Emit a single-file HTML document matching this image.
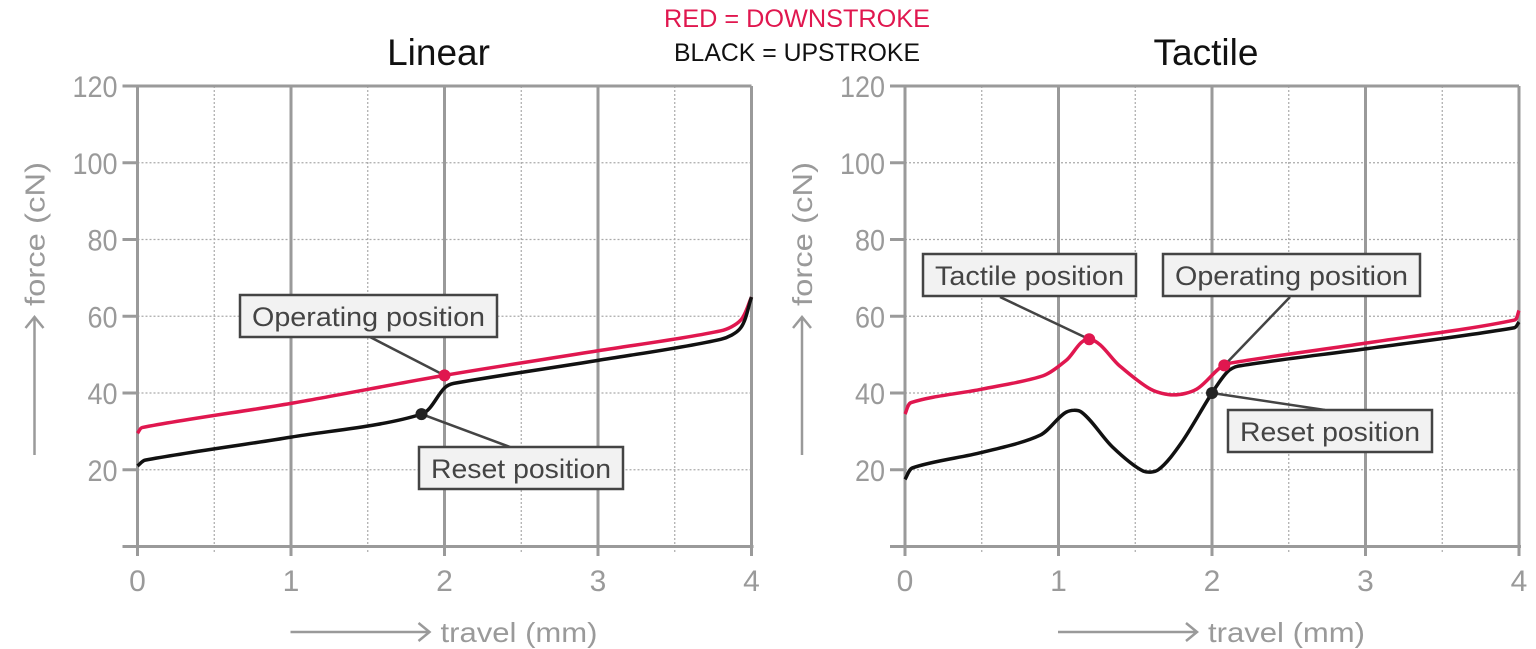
<!DOCTYPE html>
<html><head><meta charset="utf-8">
<style>
html,body{margin:0;padding:0;background:#fff;}
svg{display:block;font-family:"Liberation Sans",sans-serif;}
</style></head>
<body>
<svg id="chart" width="1536" height="649" viewBox="0 0 1536 649">
<text x="797" y="27" text-anchor="middle" font-size="25" fill="#e0174f" textLength="266" lengthAdjust="spacingAndGlyphs">RED = DOWNSTROKE</text>
<text x="797" y="61" text-anchor="middle" font-size="25" fill="#111" textLength="246" lengthAdjust="spacingAndGlyphs">BLACK = UPSTROKE</text>
<g id="left"></g>
<g id="right"></g>
</svg>
<script>
const xTicks = [0, 1, 2, 3, 4];
const yTicks = [20, 40, 60, 80, 100, 120];
const linearDownX = [0, 0.03, 1, 2, 3, 3.8, 3.93, 4];
const linearDownY = [29.5, 31, 37.3, 44.6, 51, 56.2, 59, 65];
const linearUpX = [0, 0.05, 1, 1.85, 2, 2.06, 3, 3.8, 3.93, 4];
const linearUpY = [21, 22.5, 28.5, 34.5, 41.3, 42.5, 48.5, 54, 57, 65];
const tactileDownX = [0, 0.04, 0.5, 0.9, 1.05, 1.2, 1.4, 1.6, 1.75, 1.9, 2.05, 2.12, 3, 3.97, 4];
const tactileDownY = [34.5, 37.5, 41, 44.5, 48.5, 54, 47, 41, 39.5, 41, 46.5, 47.8, 53, 59, 61.5];
const tactileUpX = [0, 0.05, 0.5, 0.88, 1.05, 1.15, 1.35, 1.55, 1.65, 1.8, 2, 2.1, 2.17, 3, 3.97, 4];
const tactileUpY = [17.5, 20.5, 24.5, 29, 35, 35, 26, 19.7, 20, 27, 40, 45.5, 47, 51.5, 57, 58.5];
const NS = "http://www.w3.org/2000/svg";

function el(parent, tag, attrs) {
  const e = document.createElementNS(NS, tag);
  for (const k in attrs) e.setAttribute(k, attrs[k]);
  parent.appendChild(e);
  return e;
}
function smooth(pts) {
  let d = "M" + pts[0][0] + "," + pts[0][1];
  for (let i = 0; i < pts.length - 1; i++) {
    const p0 = pts[Math.max(0, i - 1)], p1 = pts[i], p2 = pts[i + 1], p3 = pts[Math.min(pts.length - 1, i + 2)];
    const seg = Math.hypot(p2[0] - p1[0], p2[1] - p1[1]);
    const l1 = Math.hypot(p2[0] - p0[0], p2[1] - p0[1]) || 1;
    const l2 = Math.hypot(p3[0] - p1[0], p3[1] - p1[1]) || 1;
    const t = 0.3;
    d += " C" + (p1[0] + (p2[0] - p0[0]) / l1 * seg * t) + "," + (p1[1] + (p2[1] - p0[1]) / l1 * seg * t) + " " +
      (p2[0] - (p3[0] - p1[0]) / l2 * seg * t) + "," + (p2[1] - (p3[1] - p1[1]) / l2 * seg * t) + " " + p2[0] + "," + p2[1];
  }
  return d;
}

function drawChart(g, x0, title, downX, downY, upX, upY, labels) {
  const x1 = x0 + 614;
  const sx = v => x0 + (v / 4) * (x1 - x0);
  const sy = v => 546.5 - v * (460.5 / 120);
  const grey = "#9a9a9a";
  for (let v = 0.5; v < 4; v += 1) {
    const l = el(g, "line", {x1: sx(v), x2: sx(v), y1: sy(120), y2: 553, stroke: "#aaa", "stroke-width": 1.2, "stroke-dasharray": "2,2"});
    
    
  }
  yTicks.forEach(v => {
    const l = el(g, "line", {x1: x0, x2: x1, y1: sy(v), y2: sy(v), stroke: v === 120 ? grey : "#aaa", "stroke-width": v === 120 ? 3 : 1.2, "stroke-dasharray": v === 120 ? "none" : "2,2"});
    
    
    const t = el(g, "line", {x1: x0 - 15, x2: x0, y1: sy(v), y2: sy(v), stroke: grey, "stroke-width": 3});
    
    
    const tx = el(g, "text", {x: x0 - 20, y: sy(v) + 11, "text-anchor": "end", "font-size": 30, fill: grey, textLength: String(v).length * 15, lengthAdjust: "spacingAndGlyphs"});
    
    
    tx.textContent = v;
  });
  xTicks.forEach(v => {
    const l = el(g, "line", {x1: sx(v), x2: sx(v), y1: sy(120), y2: 556, stroke: grey, "stroke-width": 3});
    
    
    const tx = el(g, "text", {x: sx(v), y: 591, "text-anchor": "middle", "font-size": 30, fill: grey});
    
    
    tx.textContent = v;
  });
  const ax = el(g, "line", {x1: x0 - 15, x2: x1 + 2, y1: 546.5, y2: 546.5, stroke: grey, "stroke-width": 3});
  
  
  const tt = el(g, "text", {x: x0 + 301, y: 65, "text-anchor": "middle", "font-size": 37, fill: "#111"});
  
  
  tt.textContent = title;
  const xa = el(g, "path", {d: `M${x0+153},632 H${x0+291} M${x0+281},623 L${x0+292},632 L${x0+281},641`, stroke: grey, "stroke-width": 2.5, fill: "none"});
  
  
  const xt = el(g, "text", {x: x0 + 303, y: 642, "font-size": 28, fill: grey, textLength: 157, lengthAdjust: "spacingAndGlyphs"});
  
  
  xt.textContent = "travel (mm)";
  const ya = el(g, "path", {d: `M${x0-103},455 V318 M${x0-112},328 L${x0-103},317 L${x0-94},328`, stroke: grey, "stroke-width": 2.5, fill: "none"});
  
  
  const yt = el(g, "text", {x: 0, y: 0, "font-size": 28, fill: grey, transform: `translate(${x0-93},306) rotate(-90)`, textLength: 144, lengthAdjust: "spacingAndGlyphs"});
  
  
  yt.textContent = "force (cN)";
  const dp = el(g, "path", {d: smooth(downX.map((v, i) => [sx(v), sy(downY[i])])), stroke: "#e0174f", "stroke-width": 3.5, fill: "none"});
  
  
  const up = el(g, "path", {d: smooth(upX.map((v, i) => [sx(v), sy(upY[i])])), stroke: "#111", "stroke-width": 3.5, fill: "none"});
  
  
  labels.forEach(lb => {
    const px = sx(lb.px), py = sy(lb.py);
    const ln = el(g, "line", {x1: lb.ax, y1: lb.ay, x2: px, y2: py, stroke: "#444", "stroke-width": 2.5});
    
    
    const c = el(g, "circle", {cx: px, cy: py, r: 6, fill: lb.color});
    
    
    const r = el(g, "rect", {x: lb.bx, y: lb.by, width: lb.bw, height: 42, fill: "#f2f2f2", stroke: "#444", "stroke-width": 2.5});
    
    
    const t = el(g, "text", {x: lb.bx + lb.bw / 2, y: lb.by + 31, "text-anchor": "middle", "font-size": 27, fill: "#444", textLength: lb.bw - 24, lengthAdjust: "spacingAndGlyphs"});
    
    
    t.textContent = lb.text;
  });
}

drawChart(document.getElementById("left"), 137.5, "Linear", linearDownX, linearDownY, linearUpX, linearUpY, [
  {text: "Operating position", bx: 240, by: 295, bw: 257, ax: 370, ay: 337, px: 2, py: 44.6, color: "#e0174f"},
  {text: "Reset position", bx: 419, by: 447, bw: 204, ax: 510, ay: 447, px: 1.85, py: 34.5, color: "#222"}
]);
drawChart(document.getElementById("right"), 905, "Tactile", tactileDownX, tactileDownY, tactileUpX, tactileUpY, [
  {text: "Tactile position", bx: 923, by: 254, bw: 213, ax: 1000, ay: 297, px: 1.2, py: 54, color: "#e0174f"},
  {text: "Operating position", bx: 1163, by: 254, bw: 257, ax: 1290, ay: 297, px: 2.08, py: 47.2, color: "#e0174f"},
  {text: "Reset position", bx: 1228, by: 410, bw: 204, ax: 1325, ay: 410, px: 2, py: 40, color: "#222"}
]);
</script>
</body></html>
